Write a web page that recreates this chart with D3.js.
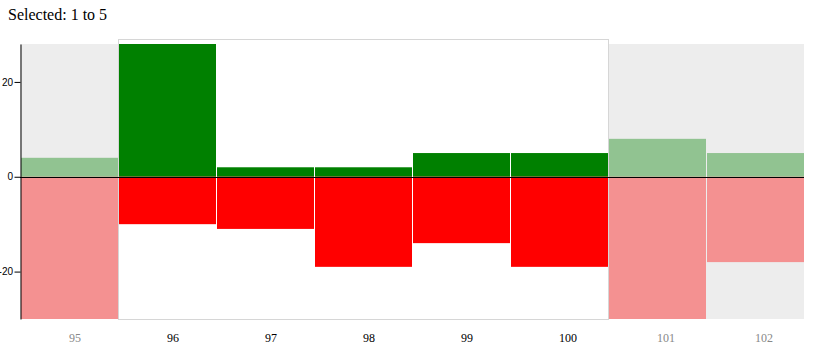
<!DOCTYPE html>
<html>
<head>
<meta charset="utf-8">
<script src="https://d3js.org/d3.v7.min.js"></script>
<style>
body { margin: 0; background: #fff; }
</style>
</head>
<body>
<div id="chart"></div>
<script>
// chart data
var categories = [95, 96, 97, 98, 99, 100, 101, 102];
var positives = [4, 28, 2, 2, 5, 5, 8, 5];
var negatives = [-30, -10, -11, -19, -14, -19, -30, -18];
var yTicks = [-20, 0, 20];
var selStart = 1;
var selEnd = 5;

var width = 815;
var height = 362;
var margin = { top: 44, left: 20, right: 11, bottom: 43 };

var svg = d3.select("#chart")
    .append("svg")
    .attr("width", width)
    .attr("height", height);

svg.append("text")
    .attr("x", 8)
    .attr("y", 20)
    .style("font-family", "'Liberation Serif', 'Times New Roman', serif")
    .style("font-size", "16px")
    .text("Selected: " + selStart + " to " + selEnd);

var x = d3.scaleBand()
    .domain(categories)
    .range([margin.left, width - margin.right]);

var y = d3.scaleLinear()
    .domain([d3.min(negatives), d3.max(positives)])
    .range([height - margin.bottom, margin.top]);

var g = svg.append("g");

// grey background for the whole plot
g.append("rect")
    .attr("x", margin.left)
    .attr("y", margin.top)
    .attr("width", width - margin.left - margin.right)
    .attr("height", height - margin.bottom - margin.top)
    .attr("fill", "#ededed");

// brush selection
g.append("rect")
    .attr("x", x(categories[selStart]) + 0.5)
    .attr("y", margin.top - 5 + 0.5)
    .attr("width", x(categories[selEnd]) + x.bandwidth() - x(categories[selStart]))
    .attr("height", height - margin.bottom - margin.top + 5)
    .attr("fill", "#fff")
    .attr("stroke", "#d6d6d6");

function isSelected(i) {
    return i >= selStart && i <= selEnd;
}

g.selectAll("rect.pos")
    .data(positives)
    .enter()
    .append("rect")
    .attr("class", "pos")
    .attr("x", function (d, i) { return x(categories[i]) + 1; })
    .attr("width", x.bandwidth() - 1)
    .attr("y", function (d) { return y(d); })
    .attr("height", function (d) { return y(0) - y(d); })
    .attr("fill", "green")
    .attr("fill-opacity", function (d, i) { return isSelected(i) ? 1 : 0.39; });

g.selectAll("rect.neg")
    .data(negatives)
    .enter()
    .append("rect")
    .attr("class", "neg")
    .attr("x", function (d, i) { return x(categories[i]) + 1; })
    .attr("width", x.bandwidth() - 1)
    .attr("y", y(0))
    .attr("height", function (d) { return y(d) - y(0); })
    .attr("fill", "red")
    .attr("fill-opacity", function (d, i) { return isSelected(i) ? 1 : 0.39; });

// zero line
g.append("line")
    .attr("x1", margin.left)
    .attr("x2", width - margin.right)
    .attr("y1", Math.round(y(0)) + 0.5)
    .attr("y2", Math.round(y(0)) + 0.5)
    .attr("stroke", "#000");

// y axis
var yAxis = d3.axisLeft(y)
    .tickValues(yTicks)
    .tickFormat(function (d) { return String(d); })
    .tickPadding(1.5)
    .tickSizeOuter(0);

svg.append("g")
    .attr("transform", "translate(" + (margin.left + 0.5) + ",0)")
    .call(yAxis)
    .call(function (a) {
        a.selectAll("text")
            .style("font-family", "'Liberation Sans', Arial, sans-serif")
            .style("font-size", "10px")
            .attr("fill", "#000");
    });

// x labels
svg.selectAll("text.xlab")
    .data(categories)
    .enter()
    .append("text")
    .attr("class", "xlab")
    .attr("x", function (d) { return x(d) + x.bandwidth() / 2; })
    .attr("y", 342)
    .style("font-family", "'Liberation Serif', 'Times New Roman', serif")
    .style("font-size", "12px")
    .attr("fill", function (d, i) { return isSelected(i) ? "#000" : "#888"; })
    .text(function (d) { return d; });
</script>
</body>
</html>
